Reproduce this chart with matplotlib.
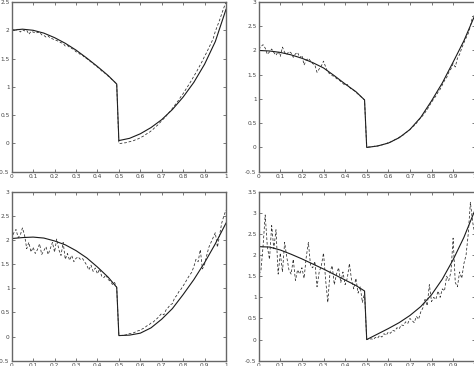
from matplotlib import pyplot as plt
import numpy as np

# sample positions of the dashed (noisy) curves
x_noisy = np.linspace(0, 1, 101)

# sample positions of the smooth solid curves
x_smooth = [0, 0.05, 0.1, 0.15, 0.2, 0.25, 0.3, 0.35, 0.4, 0.45, 0.49,
            0.5, 0.55, 0.6, 0.65, 0.7, 0.75, 0.8, 0.85, 0.9, 0.95, 1.0]

x_ticks = [0, 0.1, 0.2, 0.3, 0.4, 0.5, 0.6, 0.7, 0.8, 0.9, 1]
x_labels = ['0', '0.1', '0.2', '0.3', '0.4', '0.5', '0.6', '0.7', '0.8', '0.9', '1']

# panel 1 (top left)
solid_1 = [2.00, 2.02, 2.00, 1.95, 1.87, 1.77, 1.65, 1.51, 1.36, 1.20, 1.05,
           0.05, 0.09, 0.17, 0.28, 0.42, 0.60, 0.82, 1.08, 1.40, 1.80, 2.37]
dashed_1 = [2.00, 2.01, 2.00, 2.02, 1.97, 2.01, 1.99, 2.00, 1.93, 1.98,
            1.97, 1.95, 1.96, 1.97, 1.92, 1.91, 1.88, 1.90, 1.86, 1.85,
            1.83, 1.82, 1.80, 1.78, 1.77, 1.72, 1.73, 1.70, 1.68, 1.66,
            1.62, 1.61, 1.57, 1.56, 1.52, 1.50, 1.47, 1.44, 1.41, 1.38,
            1.35, 1.32, 1.28, 1.26, 1.22, 1.19, 1.16, 1.12, 1.09, 1.05,
            0.00, 0.00, 0.01, 0.01, 0.02, 0.03, 0.04, 0.05, 0.07, 0.08,
            0.10, 0.12, 0.14, 0.17, 0.19, 0.22, 0.25, 0.29, 0.32, 0.36,
            0.40, 0.44, 0.48, 0.53, 0.57, 0.62, 0.67, 0.72, 0.77, 0.83,
            0.88, 0.94, 1.00, 1.06, 1.12, 1.19, 1.25, 1.32, 1.39, 1.46,
            1.54, 1.61, 1.69, 1.77, 1.85, 1.98, 2.08, 2.18, 2.29, 2.40,
            2.50]
y_ticks_1 = [-0.5, 0, 0.5, 1, 1.5, 2, 2.5]
y_labels_1 = ['-0.5', '0', '0.5', '1', '1.5', '2', '2.5']

# panel 2 (top right)
solid_2 = [2.00, 1.99, 1.96, 1.91, 1.84, 1.75, 1.64, 1.48, 1.31, 1.15, 0.98,
           0.00, 0.03, 0.09, 0.20, 0.37, 0.62, 0.96, 1.33, 1.76, 2.20, 2.72]
dashed_2 = [2.02, 2.08, 2.12, 2.05, 1.92, 1.97, 2.03, 1.96, 1.90, 1.98,
            1.88, 2.07, 1.96, 1.92, 1.98, 1.95, 1.86, 1.93, 1.96, 1.85,
            1.90, 1.70, 1.80, 1.84, 1.78, 1.73, 1.70, 1.55, 1.62, 1.68,
            1.78, 1.66, 1.55, 1.52, 1.48, 1.47, 1.42, 1.40, 1.36, 1.32,
            1.28, 1.30, 1.24, 1.20, 1.18, 1.14, 1.10, 1.06, 1.02, 0.98,
            0.00, 0.01, 0.01, 0.02, 0.03, 0.03, 0.04, 0.05, 0.07, 0.08,
            0.10, 0.11, 0.13, 0.16, 0.18, 0.21, 0.23, 0.26, 0.30, 0.33,
            0.37, 0.42, 0.45, 0.50, 0.56, 0.61, 0.66, 0.72, 0.78, 0.86,
            0.93, 1.00, 1.06, 1.14, 1.20, 1.29, 1.38, 1.44, 1.55, 1.62,
            1.73, 1.66, 1.84, 1.92, 2.05, 2.16, 2.26, 2.35, 2.50, 2.70,
            2.72]
y_ticks_2 = [-0.5, 0, 0.5, 1, 1.5, 2, 2.5, 3]
y_labels_2 = ['-0.5', '0', '0.5', '1', '1.5', '2', '2.5', '3']

# panel 3 (bottom left)
solid_3 = [2.03, 2.05, 2.06, 2.04, 1.98, 1.90, 1.78, 1.63, 1.44, 1.23, 1.02,
           0.02, 0.03, 0.07, 0.18, 0.36, 0.58, 0.87, 1.18, 1.53, 1.92, 2.35]
dashed_3 = [2.02, 2.15, 2.22, 2.05, 2.10, 2.25, 2.10, 1.82, 1.95, 1.75,
            1.85, 1.72, 1.80, 1.92, 1.70, 1.78, 1.86, 1.70, 1.82, 1.95,
            1.75, 2.02, 1.80, 1.68, 1.95, 1.60, 1.72, 1.58, 1.68, 1.55,
            1.62, 1.65, 1.60, 1.62, 1.55, 1.48, 1.38, 1.48, 1.35, 1.42,
            1.30, 1.40, 1.25, 1.22, 1.28, 1.18, 1.15, 1.08, 1.12, 1.02,
            0.02, 0.02, 0.03, 0.03, 0.05, 0.06, 0.06, 0.08, 0.10, 0.12,
            0.13, 0.16, 0.18, 0.22, 0.24, 0.28, 0.30, 0.34, 0.38, 0.43,
            0.48, 0.45, 0.55, 0.60, 0.66, 0.68, 0.80, 0.85, 0.93, 0.98,
            1.05, 1.12, 1.20, 1.27, 1.33, 1.45, 1.60, 1.55, 1.80, 1.40,
            1.50, 1.68, 1.85, 1.95, 2.05, 2.15, 1.85, 2.10, 2.35, 2.50,
            2.62]
y_ticks_3 = [-0.5, 0, 0.5, 1, 1.5, 2, 2.5, 3]
y_labels_3 = ['-0.5', '0', '0.5', '1', '1.5', '2', '2.5', '3']

# panel 4 (bottom right)
solid_4 = [2.20, 2.19, 2.12, 2.02, 1.91, 1.79, 1.67, 1.54, 1.41, 1.28, 1.15,
           0.00, 0.13, 0.26, 0.40, 0.57, 0.78, 1.06, 1.43, 1.89, 2.42, 3.05]
dashed_4 = [1.55, 1.62, 2.20, 2.95, 2.20, 1.90, 2.70, 2.15, 2.60, 1.55,
            2.05, 1.60, 2.30, 1.95, 1.65, 1.55, 1.90, 1.40, 1.65, 1.55,
            1.70, 1.45, 1.95, 2.30, 1.75, 1.70, 1.85, 1.25, 1.60, 1.75,
            2.05, 1.40, 0.88, 1.60, 1.75, 1.30, 1.55, 1.70, 1.35, 1.60,
            1.30, 1.45, 1.80, 1.40, 1.20, 1.45, 1.10, 1.25, 0.88, 1.10,
            0.00, 0.00, 0.02, 0.00, 0.05, 0.03, 0.10, 0.06, 0.14, 0.10,
            0.18, 0.15, 0.22, 0.20, 0.28, 0.25, 0.35, 0.33, 0.42, 0.38,
            0.50, 0.45, 0.40, 0.55, 0.48, 0.65, 0.75, 0.95, 0.80, 1.30,
            0.90, 1.00, 0.95, 1.15, 1.00, 1.20, 1.15, 1.50, 1.40, 1.60,
            2.40, 1.35, 1.25, 1.60, 1.45, 1.80, 2.00, 2.50, 3.25, 2.80,
            2.50]
y_ticks_4 = [-0.5, 0, 0.5, 1, 1.5, 2, 2.5, 3, 3.5]
y_labels_4 = ['-0.5', '0', '0.5', '1', '1.5', '2', '2.5', '3', '3.5']


def draw_panel(fig, rect, solid, dashed, y_ticks, y_labels):
    ax = fig.add_axes(rect)
    ax.plot(x_smooth, solid, color='#1a1a1a', linewidth=0.8, linestyle='solid')
    ax.plot(x_noisy, dashed, color='#2a2a2a', linewidth=0.55,
            linestyle=(0, (3.5, 2.5)))
    ax.set_xlim(0, 1)
    ax.set_ylim(y_ticks[0], y_ticks[-1])
    ax.set_xticks(x_ticks)
    ax.set_xticklabels(x_labels)
    ax.set_yticks(y_ticks)
    ax.set_yticklabels(y_labels)
    ax.tick_params(direction='in', length=2.5, width=0.5, labelsize=4.2,
                   pad=1.5, top=True, right=True, colors='#444444')
    for side in ax.spines.values():
        side.set_linewidth(1.0)
        side.set_color('#666666')
    return ax


fig = plt.figure(figsize=(4.74, 3.66), dpi=100)

draw_panel(fig, [0.0247, 0.5309, 0.4521, 0.4636], solid_1, dashed_1, y_ticks_1, y_labels_1)
draw_panel(fig, [0.5458, 0.5309, 0.4557, 0.4636], solid_2, dashed_2, y_ticks_2, y_labels_2)
draw_panel(fig, [0.0247, 0.0145, 0.4521, 0.4617], solid_3, dashed_3, y_ticks_3, y_labels_3)
draw_panel(fig, [0.5458, 0.0145, 0.4557, 0.4617], solid_4, dashed_4, y_ticks_4, y_labels_4)

plt.savefig('out.png', dpi=100)
